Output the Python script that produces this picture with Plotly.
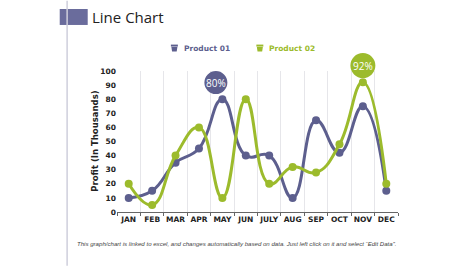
import plotly.graph_objects as go

months = ["JAN", "FEB", "MAR", "APR", "MAY", "JUN", "JULY", "AUG", "SEP", "OCT", "NOV", "DEC"]
product_01 = [10, 15, 35, 45, 80, 40, 40, 10, 65, 42, 75, 15]
product_02 = [20, 5, 40, 60, 10, 80, 20, 32, 28, 48, 92, 20]
series_names = ["Product 01", "Product 02"]
y_ticks = [0, 10, 20, 30, 40, 50, 60, 70, 80, 90, 100]

PURPLE = "#5d5f8e"
GREEN = "#9cbb2c"
W, H = 474, 266
L, R, T, B = 116.6, 397.7, 70.5, 212.0

xs = list(range(len(months)))

def px(x):
    return (x - L) / (R - L)

def py(y):
    return (B - y) / (B - T)

def data_to_paper(xi, yv):
    # category index -> paper x, value -> paper y (linear axis scales)
    return (xi + 0.5) / len(months), yv / 100.0

fig = go.Figure()
for vals, name, col in [(product_01, series_names[0], PURPLE), (product_02, series_names[1], GREEN)]:
    fig.add_trace(go.Scatter(
        x=xs, y=vals, name=name, mode="lines+markers",
        line=dict(color=col, width=3, shape="spline", smoothing=1.3),
        marker=dict(color=col, size=8), showlegend=False, cliponaxis=False))

shapes = []
annotations = []

# callout circles
callouts = [(4, product_01[4], PURPLE, "80%", -6.5, 16.6, 11.5),
            (10, product_02[10], GREEN, "92%", 0, 16.7, 12.5)]
for xi, yv, col, txt, dx, dy, r in callouts:
    ax, ay = data_to_paper(xi, yv)
    shapes.append(dict(type="circle", xref="paper", yref="paper", xsizemode="pixel", ysizemode="pixel",
                       xanchor=ax, yanchor=ay, x0=dx - r, x1=dx + r, y0=dy - r, y1=dy + r,
                       fillcolor=col, line=dict(width=0), layer="above"))
    annotations.append(dict(x=ax, y=ay, xref="paper", yref="paper", xshift=dx, yshift=dy, text=txt,
                            xanchor="center", yanchor="middle",
                            showarrow=False, font=dict(color="white", size=10, family="Open Sans")))

# left vertical decorative line
shapes.append(dict(type="line", xref="paper", yref="paper", x0=px(66.7), x1=px(66.7), y0=py(0), y1=py(266),
                   line=dict(color="#cfcfdc", width=1.5), layer="below"))
# title box
shapes.append(dict(type="rect", xref="paper", yref="paper", x0=px(59.3), x1=px(87.3), y0=py(24.3), y1=py(8.3),
                   fillcolor="#6a6c9c", line=dict(width=0)))
shapes.append(dict(type="line", xref="paper", yref="paper", x0=px(66.7), x1=px(66.7), y0=py(24.3), y1=py(8.3),
                   line=dict(color="#cfcfdc", width=1.5)))
annotations.append(dict(x=px(90), y=py(16.5), xref="paper", yref="paper", xanchor="left", yanchor="middle",
                        text="Line Chart", showarrow=False, font=dict(size=15, color="#222222", family="Open Sans")))

# legend icons + labels
for x0, name, col in [(170.5, series_names[0], PURPLE), (256.0, series_names[1], GREEN)]:
    shapes.append(dict(type="rect", xref="paper", yref="paper", x0=px(x0), x1=px(x0 + 7), y0=py(46), y1=py(44),
                       fillcolor=col, line=dict(width=0)))
    shapes.append(dict(type="path", xref="paper", yref="paper",
                       path=f"M {px(x0+0.5)},{py(46.5)} L {px(x0+6.5)},{py(46.5)} L {px(x0+5.8)},{py(51)} L {px(x0+1.2)},{py(51)} Z",
                       fillcolor=col, line=dict(width=0)))
    annotations.append(dict(x=px(x0 + 11), y=py(47.8), xref="paper", yref="paper", xanchor="left", yanchor="middle",
                            text=f"<b>{name}</b>", showarrow=False, font=dict(size=7.5, color=col, family="DejaVu Sans")))

# y-axis title
annotations.append(dict(x=px(88), y=py(141), xref="paper", yref="paper", textangle=-90,
                        text="<b>Profit (In Thousands)</b>", showarrow=False,
                        font=dict(size=8.5, color="#222222", family="DejaVu Sans")))

# footer
annotations.append(dict(x=px(75), y=py(244), xref="paper", yref="paper", xanchor="left", yanchor="middle",
                        text="<i>This graph/chart is linked to excel, and changes automatically based on data. Just left click on it and select \u201cEdit Data\u201d.</i>",
                        showarrow=False, font=dict(size=6.1, color="#444444", family="Liberation Sans")))

fig.update_layout(
    width=W, height=H, margin=dict(l=L, r=W - R, t=T, b=H - B),
    paper_bgcolor="white", plot_bgcolor="white",
    shapes=shapes, annotations=annotations,
    xaxis=dict(range=[-0.5, 11.5], tickvals=xs, ticktext=[f"<b>{m}</b>" for m in months],
               showgrid=False, zeroline=False, showline=True, linecolor="#666666", linewidth=1,
               ticks="", tickfont=dict(size=7.5, color="#222222", family="DejaVu Sans"),
               minor=dict(tickvals=[i - 0.5 for i in range(13)], showgrid=True, gridcolor="#e6e6ea",
                          gridwidth=1, ticks="outside", ticklen=3, tickcolor="#666666"),
               fixedrange=True),
    yaxis=dict(range=[0, 100], tickvals=y_ticks, ticktext=[f"<b>{v}</b>" for v in y_ticks],
               showgrid=False, zeroline=False, showline=False, ticks="",
               tickfont=dict(size=7.5, color="#222222", family="DejaVu Sans"), fixedrange=True),
)

fig.write_html("out.html")
